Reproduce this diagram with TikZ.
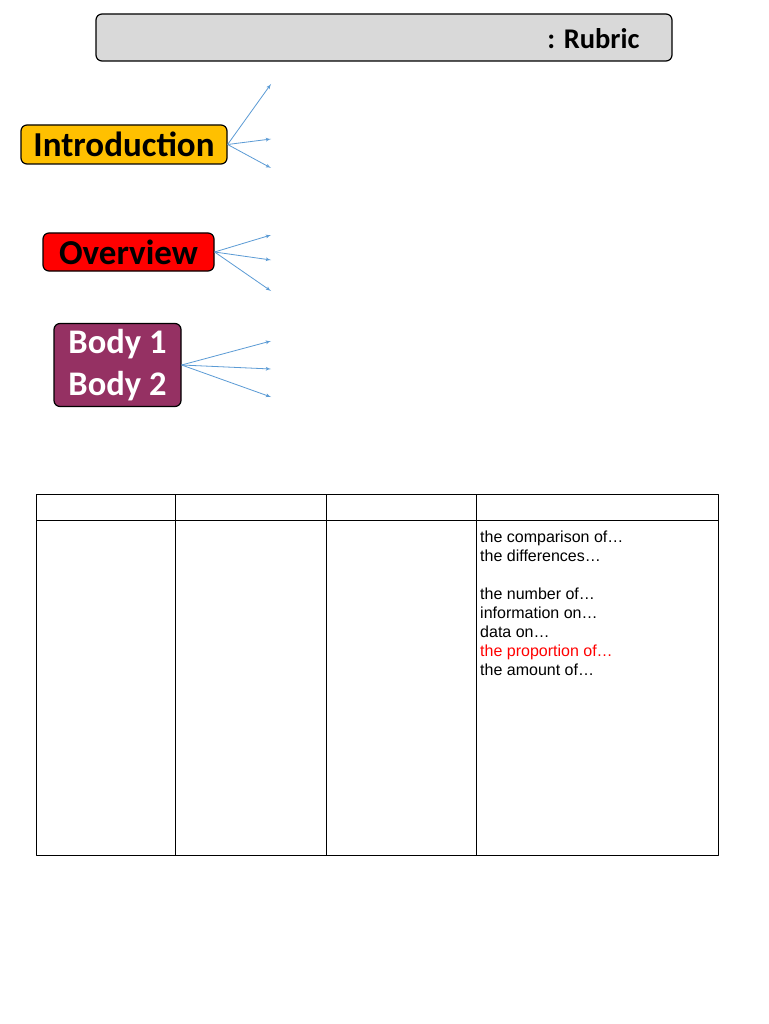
\documentclass[tikz,border=0pt]{standalone}
\usepackage{fontspec}
\setmainfont{Carlito}
\newfontfamily\arialfont{Liberation Sans}
\usetikzlibrary{arrows,positioning,calc,shapes}
\definecolor{titlegray}{HTML}{D9D9D9}
\definecolor{introgold}{HTML}{FFC000}
\definecolor{bodyplum}{HTML}{953163}
\definecolor{linkblue}{HTML}{5B9BD5}

\begin{document}
\begin{tikzpicture}[x=1pt,y=-1pt,>=latex',line join=bevel,
  box/.style={draw=black,line width=1.2pt,rounded corners=6pt,inner sep=0pt,font=\bfseries\fontsize{35}{42}\selectfont},
  link/.style={->,draw=linkblue,line width=.8pt},
  cell/.style={anchor=north west,inner sep=0pt,align=left,font=\arialfont\fontsize{16}{19}\selectfont}]
\fill[white] (0,0) rectangle (768,1024);
\useasboundingbox (0,0) rectangle (768,1024);

\node [box,fill=titlegray,minimum width=576pt,minimum height=47pt] at (384,37.5) (title) {};
\node [anchor=east,font=\bfseries\fontsize{28.5}{32}\selectfont] at (643,39) (rubric) {: Rubric};

\node [box,fill=introgold,minimum width=206pt,minimum height=39pt] at (124,144.5) (intro) {Introduction};
\node [box,fill=red,minimum width=171pt,minimum height=38pt] at (128.5,252) (over) {Overview};
\node [box,fill=bodyplum,text=white,minimum width=127pt,minimum height=83pt,align=center,
  font=\bfseries\fontsize{34.5}{42}\selectfont] at (117.5,365) (body) {Body 1\\Body 2};

\coordinate (i1) at (271,84);
\coordinate (i2) at (271,139);
\coordinate (i3) at (271,168);
\coordinate (o1) at (271,235);
\coordinate (o2) at (271,260);
\coordinate (o3) at (271,291);
\coordinate (b1) at (271,341);
\coordinate (b2) at (271,369);
\coordinate (b3) at (271,397);

\foreach \t in {i1,i2,i3} \draw [link] (intro.east) -- (\t);
\foreach \t in {o1,o2,o3} \draw [link] (over.east) -- (\t);
\foreach \t in {b1,b2,b3} \draw [link] (body.east) -- (\t);

\draw [line width=.8pt] (36,494) rectangle (718,855);
\draw [line width=.8pt] (36,520) -- (718,520);
\foreach \x in {175,326,476} \draw [line width=.8pt] (\x,494) -- (\x,855);

\node [cell] at (480,531) (words) {the comparison of\ldots\\the differences\ldots\\[19pt]the number of\ldots\\information on\ldots\\data on\ldots\\\textcolor{red}{the proportion of\ldots}\\the amount of\ldots};
\end{tikzpicture}
\end{document}
